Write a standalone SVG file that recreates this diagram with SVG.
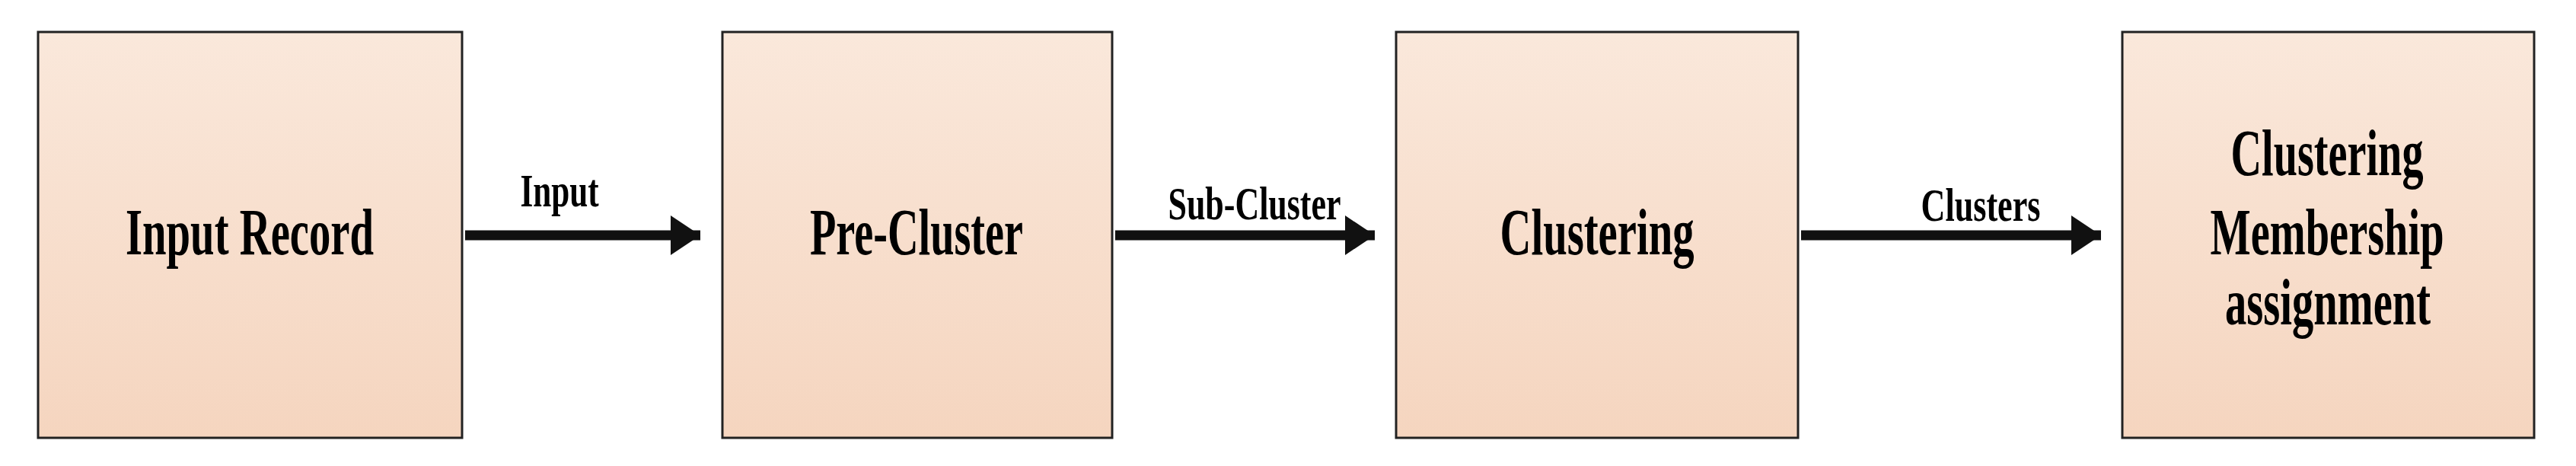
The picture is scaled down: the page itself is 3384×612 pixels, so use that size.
<svg xmlns="http://www.w3.org/2000/svg" width="3384" height="612" viewBox="0 0 3384 612">
<defs>
<linearGradient id="g" x1="0" y1="0" x2="0" y2="1"><stop offset="0" stop-color="#fae8db"/><stop offset="1" stop-color="#f5d5bf"/></linearGradient>
<marker id="ah" markerWidth="4" markerHeight="4" refX="3" refY="2" orient="auto" markerUnits="strokeWidth"><path d="M0,0 L3,2 L0,4 Z" fill="#111"/></marker>
</defs>
<style>
.box{fill:url(#g);stroke:#222;stroke-width:3}
.t{font-family:"Liberation Serif",serif;font-weight:bold;font-size:86px;fill:#000;text-anchor:middle}
.l{font-family:"Liberation Serif",serif;font-weight:bold;font-size:62px;fill:#000;text-anchor:middle}
.c{stroke:#111;stroke-width:13;fill:none;marker-end:url(#ah)}
</style>
<rect width="3384" height="612" fill="#fff"/>
<g id="n1"><rect class="box" x="50" y="42" width="557" height="533"/><text class="t" x="328" y="334" textLength="326" lengthAdjust="spacingAndGlyphs">Input Record</text></g>
<g id="n2"><rect class="box" x="949" y="42" width="512" height="533"/><text class="t" x="1204" y="334" textLength="280" lengthAdjust="spacingAndGlyphs">Pre-Cluster</text></g>
<g id="n3"><rect class="box" x="1834" y="42" width="528" height="533"/><text class="t" x="2098" y="334" textLength="255" lengthAdjust="spacingAndGlyphs">Clustering</text></g>
<g id="n4"><rect class="box" x="2788" y="42" width="541" height="533"/>
<text class="t" x="3057" y="230" textLength="253" lengthAdjust="spacingAndGlyphs">Clustering</text>
<text class="t" x="3057" y="334" textLength="307" lengthAdjust="spacingAndGlyphs">Membership</text>
<text class="t" x="3058" y="426" textLength="270" lengthAdjust="spacingAndGlyphs">assignment</text></g>
<g id="connectors">
<line class="c" x1="611" y1="309" x2="920" y2="309"/>
<line class="c" x1="1465" y1="309" x2="1806" y2="309"/>
<line class="c" x1="2366" y1="309" x2="2760" y2="309"/>
<text class="l" x="735" y="271" textLength="103" lengthAdjust="spacingAndGlyphs">Input</text>
<text class="l" x="1648" y="288" textLength="227" lengthAdjust="spacingAndGlyphs">Sub-Cluster</text>
<text class="l" x="2602" y="290" textLength="157" lengthAdjust="spacingAndGlyphs">Clusters</text>
</g>
</svg>
